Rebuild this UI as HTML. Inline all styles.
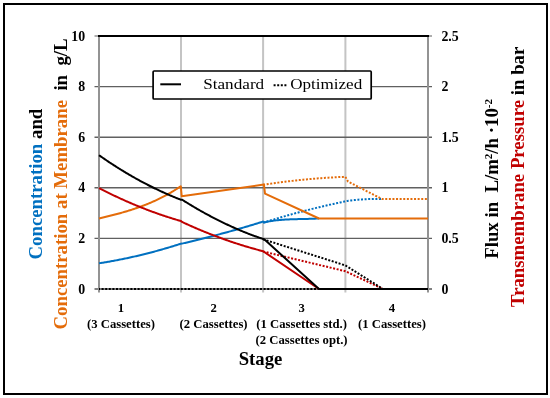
<!DOCTYPE html>
<html><head><meta charset="utf-8"><title>Chart</title>
<style>html,body{margin:0;padding:0;background:#fff;}svg{display:block;}text{font-family:"Liberation Serif",serif;font-weight:bold;fill:#000;}</style>
</head><body>
<svg width="550" height="398" viewBox="0 0 550 398">
<rect x="0" y="0" width="550" height="398" fill="#fff"/>
<rect x="4" y="4" width="543" height="390" fill="none" stroke="#000" stroke-width="2"/>
<line x1="181.00" y1="36.0" x2="181.00" y2="292.5" stroke="#C4C4C4" stroke-width="2"/>
<line x1="263.10" y1="36.0" x2="263.10" y2="292.5" stroke="#C4C4C4" stroke-width="2"/>
<line x1="345.40" y1="36.0" x2="345.40" y2="292.5" stroke="#C4C4C4" stroke-width="2"/>
<line x1="94.5" y1="238.40" x2="432.0" y2="238.40" stroke="#606060" stroke-width="1.4"/>
<line x1="94.5" y1="187.80" x2="432.0" y2="187.80" stroke="#606060" stroke-width="1.4"/>
<line x1="94.5" y1="137.20" x2="432.0" y2="137.20" stroke="#606060" stroke-width="1.4"/>
<line x1="94.5" y1="86.60" x2="432.0" y2="86.60" stroke="#606060" stroke-width="1.4"/>
<line x1="94.5" y1="289.0" x2="432.0" y2="289.0" stroke="#808080" stroke-width="2"/>
<line x1="99.0" y1="36.0" x2="99.0" y2="292.5" stroke="#939393" stroke-width="2"/>
<line x1="428.0" y1="36.0" x2="428.0" y2="292.5" stroke="#939393" stroke-width="2"/>
<line x1="94.5" y1="36.0" x2="99.0" y2="36.0" stroke="#999" stroke-width="1.6"/>
<line x1="428.0" y1="36.0" x2="432.0" y2="36.0" stroke="#999" stroke-width="1.6"/>
<line x1="98.0" y1="36.0" x2="429.0" y2="36.0" stroke="#000" stroke-width="1.8"/>
<path d="M99.0,289.0 L428.0,289.0" fill="none" stroke="#000000" stroke-width="2.0" stroke-dasharray="2 1.6" stroke-dashoffset="1"/>
<path d="M99.00,263.29 L100.00,263.13 L101.00,262.97 L102.00,262.81 L103.00,262.65 L104.00,262.49 L105.00,262.32 L106.00,262.15 L107.00,261.98 L108.00,261.81 L109.00,261.64 L110.00,261.46 L111.00,261.28 L112.00,261.10 L113.00,260.92 L114.00,260.74 L115.00,260.55 L116.00,260.36 L117.00,260.17 L118.00,259.98 L119.00,259.78 L120.00,259.59 L121.00,259.39 L122.00,259.19 L123.00,258.98 L124.00,258.78 L125.00,258.57 L126.00,258.36 L127.00,258.15 L128.00,257.94 L129.00,257.72 L130.00,257.50 L131.00,257.28 L132.00,257.06 L133.00,256.84 L134.00,256.61 L135.00,256.39 L136.00,256.16 L137.00,255.92 L138.00,255.69 L139.00,255.45 L140.00,255.21 L141.00,254.97 L142.00,254.73 L143.00,254.49 L144.00,254.24 L145.00,253.99 L146.00,253.74 L147.00,253.49 L148.00,253.23 L149.00,252.98 L150.00,252.72 L151.00,252.46 L152.00,252.19 L153.00,251.93 L154.00,251.66 L155.00,251.39 L156.00,251.12 L157.00,250.85 L158.00,250.57 L159.00,250.29 L160.00,250.01 L161.00,249.73 L162.00,249.45 L163.00,249.16 L164.00,248.87 L165.00,248.58 L166.00,248.29 L167.00,248.00 L168.00,247.70 L169.00,247.40 L170.00,247.10 L171.00,246.80 L172.00,246.50 L173.00,246.19 L174.00,245.88 L175.00,245.57 L176.00,245.26 L177.00,244.94 L178.00,244.62 L179.00,244.31 L180.00,243.98 L181.00,243.66 L182.00,243.61 L183.00,243.38 L184.00,243.15 L185.00,242.92 L186.01,242.68 L187.01,242.45 L188.01,242.21 L189.01,241.97 L190.01,241.73 L191.01,241.50 L192.01,241.26 L193.01,241.01 L194.02,240.77 L195.02,240.53 L196.02,240.28 L197.02,240.04 L198.02,239.79 L199.02,239.55 L200.02,239.30 L201.02,239.05 L202.03,238.80 L203.03,238.55 L204.03,238.29 L205.03,238.04 L206.03,237.78 L207.03,237.53 L208.03,237.27 L209.03,237.01 L210.04,236.76 L211.04,236.50 L212.04,236.24 L213.04,235.97 L214.04,235.71 L215.04,235.45 L216.04,235.18 L217.04,234.92 L218.05,234.65 L219.05,234.38 L220.05,234.11 L221.05,233.84 L222.05,233.57 L223.05,233.30 L224.05,233.03 L225.05,232.75 L226.05,232.48 L227.06,232.20 L228.06,231.93 L229.06,231.65 L230.06,231.37 L231.06,231.09 L232.06,230.81 L233.06,230.52 L234.06,230.24 L235.07,229.96 L236.07,229.67 L237.07,229.39 L238.07,229.10 L239.07,228.81 L240.07,228.52 L241.07,228.23 L242.07,227.94 L243.08,227.65 L244.08,227.35 L245.08,227.06 L246.08,226.76 L247.08,226.47 L248.08,226.17 L249.08,225.87 L250.08,225.57 L251.09,225.27 L252.09,224.97 L253.09,224.67 L254.09,224.36 L255.09,224.06 L256.09,223.75 L257.09,223.44 L258.09,223.14 L259.10,222.83 L260.10,222.52 L261.10,222.21 L262.10,221.89 L263.10,221.58 L264.10,222.37 L265.10,222.15 L266.09,221.94 L267.09,221.75 L268.09,221.56 L269.09,221.38 L270.09,221.21 L271.09,221.05 L272.08,220.90 L273.08,220.75 L274.08,220.62 L275.08,220.49 L276.08,220.37 L277.08,220.26 L278.07,220.15 L279.07,220.06 L280.07,219.96 L281.07,219.88 L282.07,219.80 L283.06,219.73 L284.06,219.66 L285.06,219.59 L286.06,219.54 L287.06,219.48 L288.06,219.43 L289.05,219.39 L290.05,219.34 L291.05,219.31 L292.05,219.27 L293.05,219.24 L294.04,219.21 L295.04,219.18 L296.04,219.15 L297.04,219.13 L298.04,219.10 L299.04,219.08 L300.03,219.06 L301.03,219.04 L302.03,219.02 L303.03,219.00 L304.03,218.98 L305.02,218.95 L306.02,218.93 L307.02,218.91 L308.02,218.88 L309.02,218.85 L310.02,218.82 L311.01,218.79 L312.01,218.76 L313.01,218.72 L314.01,218.68 L315.01,218.63 L316.01,218.59 L317.00,218.53 L318.00,218.48 L319.00,218.42" fill="none" stroke="#0070C0" stroke-width="2.0" stroke-linejoin="round"/>
<path d="M263.10,222.77 L264.10,222.45 L265.11,222.14 L266.11,221.82 L267.11,221.51 L268.12,221.20 L269.12,220.89 L270.13,220.58 L271.13,220.28 L272.13,219.97 L273.14,219.67 L274.14,219.36 L275.14,219.06 L276.15,218.76 L277.15,218.46 L278.15,218.17 L279.16,217.87 L280.16,217.58 L281.17,217.28 L282.17,216.99 L283.17,216.70 L284.18,216.41 L285.18,216.12 L286.18,215.84 L287.19,215.55 L288.19,215.27 L289.20,214.99 L290.20,214.71 L291.20,214.43 L292.21,214.15 L293.21,213.87 L294.21,213.60 L295.22,213.32 L296.22,213.05 L297.22,212.78 L298.23,212.51 L299.23,212.24 L300.24,211.98 L301.24,211.71 L302.24,211.45 L303.25,211.18 L304.25,210.92 L305.25,210.66 L306.26,210.40 L307.26,210.14 L308.26,209.89 L309.27,209.63 L310.27,209.38 L311.28,209.13 L312.28,208.88 L313.28,208.63 L314.29,208.38 L315.29,208.14 L316.29,207.89 L317.30,207.65 L318.30,207.40 L319.30,207.16 L320.31,206.92 L321.31,206.69 L322.32,206.45 L323.32,206.21 L324.32,205.98 L325.33,205.75 L326.33,205.52 L327.33,205.29 L328.34,205.06 L329.34,204.83 L330.35,204.61 L331.35,204.38 L332.35,204.16 L333.36,203.94 L334.36,203.72 L335.36,203.50 L336.37,203.28 L337.37,203.06 L338.37,202.85 L339.38,202.64 L340.38,202.42 L341.39,202.21 L342.39,202.01 L343.39,201.80 L344.40,201.59 L345.40,201.39 L346.39,201.09 L347.38,200.94 L348.37,200.80 L349.36,200.67 L350.35,200.54 L351.34,200.42 L352.32,200.30 L353.31,200.19 L354.30,200.08 L355.29,199.98 L356.28,199.88 L357.27,199.79 L358.26,199.70 L359.25,199.62 L360.24,199.54 L361.23,199.46 L362.22,199.40 L363.21,199.33 L364.19,199.27 L365.18,199.22 L366.17,199.17 L367.16,199.13 L368.15,199.09 L369.14,199.06 L370.13,199.03 L371.12,199.00 L372.11,198.98 L373.10,198.97 L374.09,198.96 L375.08,198.96 L376.06,198.96 L377.05,198.97 L378.04,198.98 L379.03,198.99 L380.02,199.01 L381.01,199.04 L382.00,199.07" fill="none" stroke="#0070C0" stroke-width="2.0" stroke-dasharray="2 1.6"/>
<path d="M263.10,184.83 L264.10,184.67 L265.11,184.52 L266.11,184.37 L267.11,184.21 L268.12,184.06 L269.12,183.91 L270.13,183.76 L271.13,183.62 L272.13,183.47 L273.14,183.33 L274.14,183.19 L275.14,183.04 L276.15,182.91 L277.15,182.77 L278.15,182.63 L279.16,182.50 L280.16,182.36 L281.17,182.23 L282.17,182.10 L283.17,181.97 L284.18,181.84 L285.18,181.72 L286.18,181.59 L287.19,181.47 L288.19,181.35 L289.20,181.23 L290.20,181.11 L291.20,180.99 L292.21,180.87 L293.21,180.76 L294.21,180.65 L295.22,180.53 L296.22,180.42 L297.22,180.31 L298.23,180.21 L299.23,180.10 L300.24,180.00 L301.24,179.89 L302.24,179.79 L303.25,179.69 L304.25,179.59 L305.25,179.50 L306.26,179.40 L307.26,179.31 L308.26,179.21 L309.27,179.12 L310.27,179.03 L311.28,178.94 L312.28,178.86 L313.28,178.77 L314.29,178.69 L315.29,178.61 L316.29,178.53 L317.30,178.45 L318.30,178.37 L319.30,178.29 L320.31,178.22 L321.31,178.14 L322.32,178.07 L323.32,178.00 L324.32,177.93 L325.33,177.86 L326.33,177.80 L327.33,177.73 L328.34,177.67 L329.34,177.61 L330.35,177.54 L331.35,177.49 L332.35,177.43 L333.36,177.37 L334.36,177.32 L335.36,177.26 L336.37,177.21 L337.37,177.16 L338.37,177.11 L339.38,177.07 L340.38,177.02 L341.39,176.97 L342.39,176.93 L343.39,176.89 L344.40,176.85 L345.40,176.81 L348.00,181.50 L381.90,199.00 L428.00,199.00" fill="none" stroke="#E46C0A" stroke-width="2.0" stroke-dasharray="2 1.6"/>
<path d="M99.00,218.50 L100.00,218.26 L101.00,218.03 L101.99,217.79 L102.99,217.55 L103.99,217.31 L104.99,217.07 L105.98,216.82 L106.98,216.58 L107.98,216.33 L108.98,216.08 L109.97,215.83 L110.97,215.58 L111.97,215.33 L112.97,215.07 L113.96,214.81 L114.96,214.55 L115.96,214.29 L116.96,214.02 L117.95,213.75 L118.95,213.48 L119.95,213.20 L120.95,212.92 L121.94,212.64 L122.94,212.36 L123.94,212.07 L124.94,211.78 L125.93,211.48 L126.93,211.18 L127.93,210.88 L128.93,210.57 L129.92,210.26 L130.92,209.94 L131.92,209.62 L132.92,209.30 L133.91,208.97 L134.91,208.64 L135.91,208.30 L136.91,207.95 L137.90,207.60 L138.90,207.25 L139.90,206.89 L140.90,206.53 L141.90,206.16 L142.89,205.78 L143.89,205.40 L144.89,205.01 L145.89,204.62 L146.88,204.22 L147.88,203.81 L148.88,203.40 L149.88,202.98 L150.87,202.56 L151.87,202.13 L152.87,201.69 L153.87,201.24 L154.86,200.79 L155.86,200.33 L156.86,199.87 L157.86,199.39 L158.85,198.91 L159.85,198.42 L160.85,197.93 L161.85,197.42 L162.84,196.91 L163.84,196.39 L164.84,195.86 L165.84,195.33 L166.83,194.78 L167.83,194.23 L168.83,193.67 L169.83,193.10 L170.82,192.52 L171.82,191.93 L172.82,191.34 L173.82,190.73 L174.81,190.12 L175.81,189.49 L176.81,188.86 L177.81,188.21 L178.80,187.56 L179.80,186.90 L180.80,186.22 L181.70,196.20 L263.90,184.60 L265.00,193.60 L319.00,218.50 L428.00,218.50" fill="none" stroke="#E46C0A" stroke-width="2.0" stroke-linejoin="round"/>
<path d="M263.10,251.50 L345.40,271.20 L383.00,289.00" fill="none" stroke="#C00000" stroke-width="2.0" stroke-dasharray="2 1.6"/>
<path d="M263.10,239.30 L345.40,265.40 L383.00,289.00" fill="none" stroke="#000000" stroke-width="2.0" stroke-dasharray="2 1.6"/>
<path d="M99.00,188.06 L100.00,188.58 L101.00,189.09 L102.00,189.61 L103.00,190.12 L104.00,190.62 L105.00,191.13 L106.00,191.63 L107.00,192.13 L108.00,192.62 L109.00,193.11 L110.00,193.60 L111.00,194.09 L112.00,194.57 L113.00,195.05 L114.00,195.53 L115.00,196.01 L116.00,196.48 L117.00,196.95 L118.00,197.42 L119.00,197.88 L120.00,198.34 L121.00,198.80 L122.00,199.25 L123.00,199.71 L124.00,200.16 L125.00,200.60 L126.00,201.05 L127.00,201.49 L128.00,201.93 L129.00,202.36 L130.00,202.79 L131.00,203.22 L132.00,203.65 L133.00,204.07 L134.00,204.49 L135.00,204.91 L136.00,205.33 L137.00,205.74 L138.00,206.15 L139.00,206.55 L140.00,206.96 L141.00,207.36 L142.00,207.76 L143.00,208.15 L144.00,208.54 L145.00,208.93 L146.00,209.32 L147.00,209.70 L148.00,210.09 L149.00,210.46 L150.00,210.84 L151.00,211.21 L152.00,211.58 L153.00,211.95 L154.00,212.31 L155.00,212.67 L156.00,213.03 L157.00,213.38 L158.00,213.74 L159.00,214.09 L160.00,214.43 L161.00,214.78 L162.00,215.12 L163.00,215.45 L164.00,215.79 L165.00,216.12 L166.00,216.45 L167.00,216.78 L168.00,217.10 L169.00,217.42 L170.00,217.74 L171.00,218.06 L172.00,218.37 L173.00,218.68 L174.00,218.98 L175.00,219.29 L176.00,219.59 L177.00,219.89 L178.00,220.18 L179.00,220.47 L180.00,220.76 L181.00,221.05 L182.00,221.94 L183.00,222.41 L184.00,222.87 L185.00,223.33 L186.01,223.78 L187.01,224.24 L188.01,224.69 L189.01,225.14 L190.01,225.59 L191.01,226.03 L192.01,226.47 L193.01,226.91 L194.02,227.35 L195.02,227.78 L196.02,228.22 L197.02,228.64 L198.02,229.07 L199.02,229.49 L200.02,229.92 L201.02,230.33 L202.03,230.75 L203.03,231.16 L204.03,231.57 L205.03,231.98 L206.03,232.39 L207.03,232.79 L208.03,233.19 L209.03,233.59 L210.04,233.98 L211.04,234.38 L212.04,234.77 L213.04,235.15 L214.04,235.54 L215.04,235.92 L216.04,236.30 L217.04,236.68 L218.05,237.05 L219.05,237.42 L220.05,237.79 L221.05,238.16 L222.05,238.52 L223.05,238.88 L224.05,239.24 L225.05,239.60 L226.05,239.95 L227.06,240.30 L228.06,240.65 L229.06,241.00 L230.06,241.34 L231.06,241.68 L232.06,242.02 L233.06,242.36 L234.06,242.69 L235.07,243.02 L236.07,243.35 L237.07,243.67 L238.07,243.99 L239.07,244.31 L240.07,244.63 L241.07,244.95 L242.07,245.26 L243.08,245.57 L244.08,245.87 L245.08,246.18 L246.08,246.48 L247.08,246.78 L248.08,247.08 L249.08,247.37 L250.08,247.66 L251.09,247.95 L252.09,248.24 L253.09,248.52 L254.09,248.80 L255.09,249.08 L256.09,249.36 L257.09,249.63 L258.09,249.90 L259.10,250.17 L260.10,250.43 L261.10,250.70 L262.10,250.96 L263.10,251.22 L319.00,289.00 L428.00,289.00" fill="none" stroke="#C00000" stroke-width="2.0" stroke-linejoin="round"/>
<path d="M99.00,155.21 L100.00,155.91 L101.00,156.61 L102.00,157.30 L103.00,157.99 L104.00,158.68 L105.00,159.36 L106.00,160.04 L107.00,160.71 L108.00,161.38 L109.00,162.05 L110.00,162.71 L111.00,163.37 L112.00,164.02 L113.00,164.67 L114.00,165.32 L115.00,165.96 L116.00,166.60 L117.00,167.23 L118.00,167.86 L119.00,168.49 L120.00,169.11 L121.00,169.73 L122.00,170.35 L123.00,170.96 L124.00,171.57 L125.00,172.17 L126.00,172.77 L127.00,173.37 L128.00,173.96 L129.00,174.55 L130.00,175.13 L131.00,175.71 L132.00,176.29 L133.00,176.86 L134.00,177.43 L135.00,178.00 L136.00,178.56 L137.00,179.11 L138.00,179.67 L139.00,180.22 L140.00,180.76 L141.00,181.30 L142.00,181.84 L143.00,182.38 L144.00,182.91 L145.00,183.43 L146.00,183.95 L147.00,184.47 L148.00,184.99 L149.00,185.50 L150.00,186.00 L151.00,186.51 L152.00,187.01 L153.00,187.50 L154.00,187.99 L155.00,188.48 L156.00,188.96 L157.00,189.44 L158.00,189.92 L159.00,190.39 L160.00,190.86 L161.00,191.32 L162.00,191.78 L163.00,192.24 L164.00,192.69 L165.00,193.14 L166.00,193.59 L167.00,194.03 L168.00,194.46 L169.00,194.90 L170.00,195.33 L171.00,195.75 L172.00,196.17 L173.00,196.59 L174.00,197.00 L175.00,197.41 L176.00,197.82 L177.00,198.22 L178.00,198.62 L179.00,199.01 L180.00,199.40 L181.00,199.79 L182.00,199.63 L183.00,200.27 L184.00,200.90 L185.00,201.53 L186.01,202.15 L187.01,202.77 L188.01,203.39 L189.01,204.00 L190.01,204.61 L191.01,205.22 L192.01,205.82 L193.01,206.42 L194.02,207.01 L195.02,207.60 L196.02,208.19 L197.02,208.77 L198.02,209.35 L199.02,209.93 L200.02,210.50 L201.02,211.07 L202.03,211.63 L203.03,212.19 L204.03,212.75 L205.03,213.30 L206.03,213.85 L207.03,214.40 L208.03,214.94 L209.03,215.48 L210.04,216.01 L211.04,216.54 L212.04,217.07 L213.04,217.59 L214.04,218.11 L215.04,218.63 L216.04,219.14 L217.04,219.65 L218.05,220.16 L219.05,220.66 L220.05,221.15 L221.05,221.65 L222.05,222.14 L223.05,222.62 L224.05,223.11 L225.05,223.58 L226.05,224.06 L227.06,224.53 L228.06,225.00 L229.06,225.46 L230.06,225.92 L231.06,226.38 L232.06,226.83 L233.06,227.28 L234.06,227.72 L235.07,228.16 L236.07,228.60 L237.07,229.03 L238.07,229.46 L239.07,229.89 L240.07,230.31 L241.07,230.73 L242.07,231.15 L243.08,231.56 L244.08,231.97 L245.08,232.37 L246.08,232.77 L247.08,233.17 L248.08,233.56 L249.08,233.95 L250.08,234.33 L251.09,234.71 L252.09,235.09 L253.09,235.47 L254.09,235.84 L255.09,236.20 L256.09,236.56 L257.09,236.92 L258.09,237.28 L259.10,237.63 L260.10,237.98 L261.10,238.32 L262.10,238.66 L263.10,239.00 L264.80,239.80 L319.00,289.00 L428.00,289.00" fill="none" stroke="#000000" stroke-width="2.0" stroke-linejoin="round"/>
<rect x="153.1" y="71" width="218.1" height="28" rx="1" fill="#fff" stroke="#000" stroke-width="1.7"/>
<line x1="160.3" y1="84.3" x2="181" y2="84.3" stroke="#000" stroke-width="2"/>
<line x1="273.6" y1="85.3" x2="287" y2="85.3" stroke="#000" stroke-width="2" stroke-dasharray="2 1.6"/>
<text x="203.2" y="89.2" font-size="15.5" style="font-weight:normal" textLength="61" lengthAdjust="spacingAndGlyphs">Standard</text>
<text x="290.2" y="89.2" font-size="15.5" style="font-weight:normal" textLength="72" lengthAdjust="spacingAndGlyphs">Optimized</text>
<text transform="translate(85.2,293.60) scale(1.02,1)" font-size="13.6" text-anchor="end">0</text>
<text transform="translate(85.2,243.00) scale(1.02,1)" font-size="13.6" text-anchor="end">2</text>
<text transform="translate(85.2,192.40) scale(1.02,1)" font-size="13.6" text-anchor="end">4</text>
<text transform="translate(85.2,141.80) scale(1.02,1)" font-size="13.6" text-anchor="end">6</text>
<text transform="translate(85.2,91.20) scale(1.02,1)" font-size="13.6" text-anchor="end">8</text>
<text transform="translate(85.2,40.60) scale(1.02,1)" font-size="13.6" text-anchor="end">10</text>
<text transform="translate(441.4,293.60) scale(1.02,1)" font-size="13.6">0</text>
<text transform="translate(441.4,243.00) scale(1.02,1)" font-size="13.6">0.5</text>
<text transform="translate(441.4,192.40) scale(1.02,1)" font-size="13.6">1</text>
<text transform="translate(441.4,141.80) scale(1.02,1)" font-size="13.6">1.5</text>
<text transform="translate(441.4,91.20) scale(1.02,1)" font-size="13.6">2</text>
<text transform="translate(441.4,40.60) scale(1.02,1)" font-size="13.6">2.5</text>
<text x="121" y="312.3" font-size="12.7" text-anchor="middle">1</text>
<text x="121" y="327.6" font-size="12.7" text-anchor="middle">(3 Cassettes)</text>
<text x="213.6" y="312.3" font-size="12.7" text-anchor="middle">2</text>
<text x="213.6" y="327.6" font-size="12.7" text-anchor="middle">(2 Cassettes)</text>
<text x="301.6" y="312.3" font-size="12.7" text-anchor="middle">3</text>
<text x="301.6" y="327.6" font-size="12.7" text-anchor="middle">(1 Cassettes std.)</text>
<text x="301.6" y="344.2" font-size="12.7" text-anchor="middle">(2 Cassettes opt.)</text>
<text x="392" y="312.3" font-size="12.7" text-anchor="middle">4</text>
<text x="392" y="327.6" font-size="12.7" text-anchor="middle">(1 Cassettes)</text>
<text x="260.5" y="364.8" font-size="18.7" text-anchor="middle">Stage</text>
<text transform="translate(42.2,259.5) rotate(-90)" font-size="18.8"><tspan fill="#0070C0">Concentration</tspan> and</text>
<text transform="translate(66.6,329.5) rotate(-90)" font-size="18.8" xml:space="preserve"><tspan fill="#E46C0A">Concentration at Membrane</tspan>  in  g/L</text>
<text transform="translate(498.3,258.8) rotate(-90)" font-size="18.8" xml:space="preserve">Flux in  L/m<tspan font-size="11" dy="-6.5">2</tspan><tspan dy="6.5">/h ·10</tspan><tspan font-size="11" dy="-6.5">-2</tspan></text>
<text transform="translate(523.9,307) rotate(-90)" font-size="18.8" xml:space="preserve"><tspan fill="#C00000">Transmembrane Pressure</tspan> in bar</text>
</svg>
</body></html>
